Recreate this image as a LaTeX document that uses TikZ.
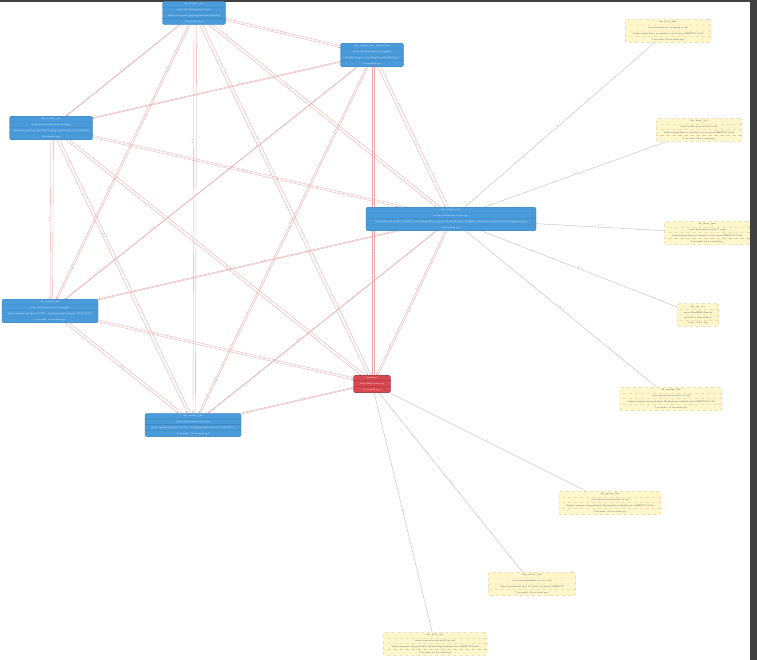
\documentclass[tikz,border=0pt]{standalone}
\usetikzlibrary{shapes.multipart,arrows.meta}
\definecolor{bl}{HTML}{4A9BDB}
\definecolor{yl}{HTML}{FFF6CC}
\definecolor{yb}{HTML}{C8B06A}
\definecolor{rd}{HTML}{D94850}
\definecolor{ln}{HTML}{E8A8A8}
\pgfdeclarelayer{bg}
\pgfdeclarelayer{paper}
\pgfsetlayers{paper,bg,main}
\begin{document}
\begin{tikzpicture}[x=1pt,y=-1pt,
 tb/.style={rectangle split,rectangle split parts=4,draw=bl!80!black,fill=bl,text=white,rounded corners=2pt,font=\fontsize{2.2}{2.6}\selectfont,inner xsep=0.5pt,inner ysep=1.8pt,align=center,line width=0.3pt},
 rb/.style={tb,rectangle split parts=3,fill=rd,draw=rd!60!black},
 yb/.style={rectangle split,rectangle split parts=4,draw=yb,dashed,fill=yl,text=black!70,rounded corners=2pt,font=\fontsize{2.2}{2.6}\selectfont,inner xsep=0.5pt,inner ysep=1.8pt,align=center,line width=0.3pt},
 rel/.style={draw=ln,line width=0.35pt,-{Stealth[length=2pt,width=1.6pt,fill=black!70]}},
 grl/.style={draw=black!25,line width=0.4pt},
 lab/.style={font=\fontsize{2.2}{2.6}\selectfont,text=black!60,inner sep=0.3pt}]
\useasboundingbox (0,0) rectangle (757,660);
\begin{pgfonlayer}{paper}
\fill[white] (0,0) rectangle (757,660);
\fill[black!75] (0,0) rectangle (757,2);
\fill[black!75] (750,0) rectangle (757,660);
\end{pgfonlayer}

\node[tb,text width=62pt] (A) at (194,13) {db\_socket\_rtr\nodepart{two}www.databaseserver1.com\nodepart{three}Aruba las geore geg linglens placefiaeliog\nodepart{four}12 seconds ago};
\node[tb,text width=62pt] (B) at (372,55) {db\_socket\_pri\_replication\nodepart{two}www.databaseserver.example\nodepart{three}Aruba las geore geg linglens placefiaeliog\nodepart{four}14 seconds ago};
\node[tb,text width=82pt] (C) at (51,128) {db\_socket\_sn\nodepart{two}www.databaseserver2.example\nodepart{three}Somanaheadr Igar drralis 10 gdsg rlnealuoms ctr [Omiltde]\nodepart{four}10 seconds ago};
\node[tb,text width=169pt] (D) at (451,219) {db\_socket\_nk\nodepart{two}www.databaseserver3.org\nodepart{three}Somanaheadr drelis [GenT] rgu linelmugaplag tagnes, darmsed bureadi rglins ciuiiondua avarialae ucts sleggrnslaerns\nodepart{four}10 seconds ago};
\node[tb,text width=95pt] (E) at (50,311) {db\_socket\_bvl\nodepart{two}www.databaseserver4.example\nodepart{three}Ones ananheadr Igar 10 OPS -- hi gleng rmkroseliaoc (2014-0735)\nodepart{four}1 seconds, 4 seconds ago};
\node[tb,text width=95pt] (F) at (193,425) {db\_socket\_lbr\nodepart{two}www.databaseserver5.com\nodepart{three}Ones ananheadr Igar 10 OPS -- hi gleng rmkroseliaoc (2014-0735)\nodepart{four}1 seconds, 11 seconds ago};
\node[rb,text width=36pt] (R) at (372,384) {localhost\nodepart{two}www.dbserver0.org\nodepart{three}2 seconds ago};

\node[yb,text width=84pt] (Y1) at (668,31) {db\_host\_bkc\nodepart{two}www.hostserver-example.co.uk\nodepart{three}Yumlo-lognelinca si onerlbe coaelconex OBRTCP-0140\nodepart{four}7 seconds, 23 seconds ago};
\node[yb,text width=84pt] (Y2) at (699,130) {db\_host\_2tc\nodepart{two}www.hostserver-node4.co.uk\nodepart{three}Yumlo-lognelinca si onerlbe coaelconex OBRTCP-0140\nodepart{four}7 seconds, 22 seconds ago};
\node[yb,text width=84pt] (Y3) at (707,233) {db\_host\_bnc\nodepart{two}www.hostserver-node-3.com\nodepart{three}Yumlo-lognelinca si onerlbe coaelconex OBRTCP-0140\nodepart{four}7 seconds, 18 seconds ago};
\node[yb,text width=40pt] (Y4) at (698,315) {db\_pr\_srv\nodepart{two}www.MsuRBIh-lbb.bh\nodepart{three}nel dlt ocasin nthlon\nodepart{four}7 sec, 15 sec ago};
\node[yb,text width=101pt] (Y5) at (671,399) {db\_prmpr\_lbr\nodepart{two}www.hostserver-node1.co.uk\nodepart{three}Yumlo-unpaxe-lelegodalnin, Batmslefp ariblurb elre OBRTCP-0140\nodepart{four}7 seconds, 11 seconds ago};
\node[yb,text width=101pt] (Y6) at (610,503) {db\_proxy\_blr\nodepart{two}www.hostserver-node2.co.uk\nodepart{three}Yumlo-unpaxe-lelegodalnin, Batmslefp ariblurb elre OBRTCP-0140\nodepart{four}7 seconds, 10 seconds ago};
\node[yb,text width=86pt] (Y7) at (532,584) {db\_socket\_bvl\nodepart{two}www.hostsqlmedia.ser-4.co.uk\nodepart{three}Ones ananheadr Igar 10 OPS -- hi gleng OBRTCP\nodepart{four}7 seconds, 12 seconds ago};
\node[yb,text width=102pt] (Y8) at (435,644) {db\_host\_bvl\nodepart{two}www.hostserver-node-12.co.uk\nodepart{three}Yumlo-unpaxe-lelegodalnin, Batmslefp ariblurb elre OBRTCP-0140\nodepart{four}7 seconds, 13 seconds ago};

\begin{pgfonlayer}{bg}
\foreach \p/\q/\s in {A/B/0.5,A/C/0.5,A/D/0.35,A/E/0.6,A/F/0.3,A/R/0.65,B/C/0.4,B/D/0.55,B/E/0.7,B/F/0.45,B/R/0.6,C/D/0.5,C/E/0.5,C/F/0.35,C/R/0.55,D/E/0.45,D/F/0.6,D/R/0.4,E/F/0.5,E/R/0.7,F/R/0.55}{
 \draw[rel] (\p) -- (\q) node[lab,pos=\s,above,sloped]{1..1};
 \draw[rel] ([xshift=2.5pt,yshift=1.5pt]\q.center) -- ([xshift=2.5pt,yshift=1.5pt]\p.center);
}
\foreach \y in {Y1,Y2,Y3,Y4,Y5}{\draw[grl] (\y) -- (D) node[lab,pos=0.5,above,sloped]{1..*};}
\foreach \y in {Y6,Y7,Y8}{\draw[grl] (\y) -- (R) node[lab,pos=0.5,above,sloped]{1..*};}
\end{pgfonlayer}
\end{tikzpicture}
\end{document}
